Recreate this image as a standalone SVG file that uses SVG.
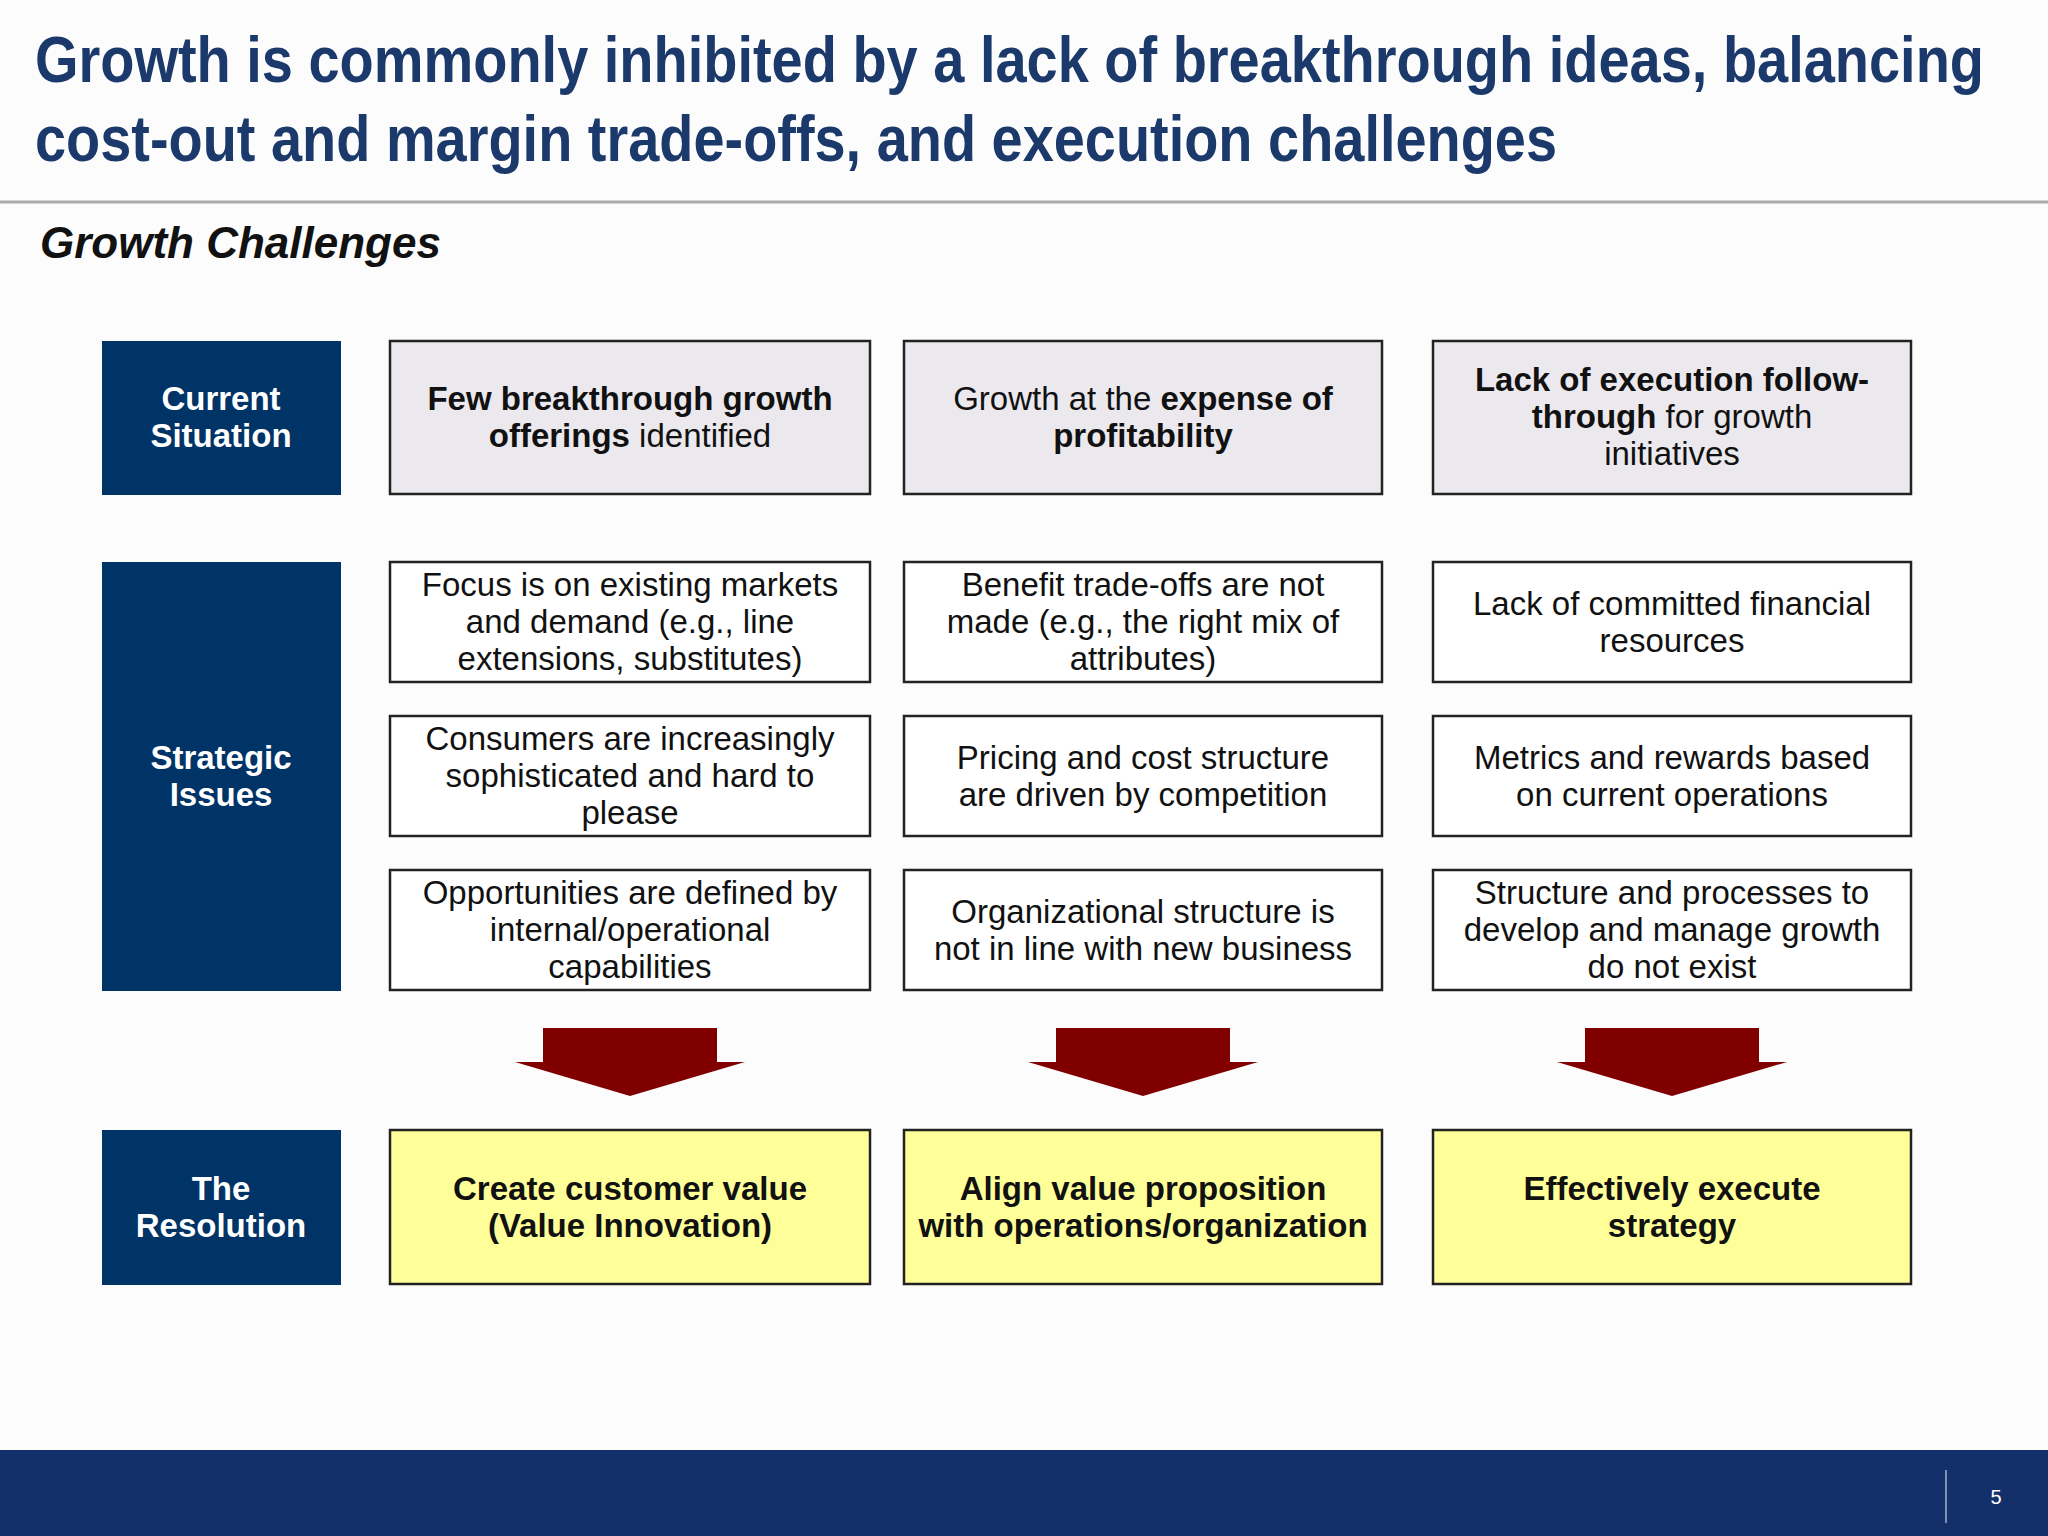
<svg xmlns="http://www.w3.org/2000/svg" width="2048" height="1536" viewBox="0 0 2048 1536">
<style>
.t{font-family:"Liberation Sans Narrow","Liberation Sans",Arial,sans-serif;font-weight:bold;font-size:64px;fill:#1b3a6b}
.lbl{fill:#003366}
.lt{font-family:"Liberation Sans",Arial,sans-serif;font-weight:bold;font-size:33px;fill:#fff;text-anchor:middle}
.hd{fill:#ebe9ee;stroke:#222;stroke-width:2.5}
.bx{fill:#fff;stroke:#222;stroke-width:2.5}
.rs{fill:#ffff99;stroke:#222;stroke-width:2.5}
.tx{font-family:"Liberation Sans",Arial,sans-serif;font-size:33px;fill:#111;text-anchor:middle}
.b{font-weight:bold}
.ar{fill:#800000}
</style>
<rect width="2048" height="1536" fill="#fcfcfd"/>
<text class="t" x="35" y="82" textLength="1949" lengthAdjust="spacingAndGlyphs">Growth is commonly inhibited by a lack of breakthrough ideas, balancing</text>
<text class="t" x="35" y="161" textLength="1522" lengthAdjust="spacingAndGlyphs">cost-out and margin trade-offs, and execution challenges</text>
<line x1="0" y1="202" x2="2048" y2="202" stroke="#aaa" stroke-width="3"/>
<text x="40" y="258" font-family="Liberation Sans,Arial,sans-serif" font-weight="bold" font-style="italic" font-size="44" fill="#111">Growth Challenges</text>

<g id="current"><rect class="lbl" x="102" y="341" width="239" height="154"/><text class="lt" x="221" y="410">Current</text><text class="lt" x="221" y="447">Situation</text></g>
<g id="strategic"><rect class="lbl" x="102" y="562" width="239" height="429"/><text class="lt" x="221" y="769">Strategic</text><text class="lt" x="221" y="806">Issues</text></g>
<g id="resolution"><rect class="lbl" x="102" y="1130" width="239" height="155"/><text class="lt" x="221" y="1200">The</text><text class="lt" x="221" y="1237">Resolution</text></g>

<g id="h1"><rect class="hd" x="390" y="341" width="480" height="153"/><text class="tx" x="630" y="410"><tspan class="b">Few breakthrough growth</tspan></text><text class="tx" x="630" y="447"><tspan class="b">offerings</tspan> identified</text></g>
<g id="h2"><rect class="hd" x="904" y="341" width="478" height="153"/><text class="tx" x="1143" y="410">Growth at the <tspan class="b">expense of</tspan></text><text class="tx" x="1143" y="447"><tspan class="b">profitability</tspan></text></g>
<g id="h3"><rect class="hd" x="1433" y="341" width="478" height="153"/><text class="tx" x="1672" y="391"><tspan class="b">Lack of execution follow-</tspan></text><text class="tx" x="1672" y="428"><tspan class="b">through</tspan> for growth</text><text class="tx" x="1672" y="465">initiatives</text></g>

<g id="s11"><rect class="bx" x="390" y="562" width="480" height="120"/><text class="tx" x="630" y="596">Focus is on existing markets</text><text class="tx" x="630" y="633">and demand (e.g., line</text><text class="tx" x="630" y="670">extensions, substitutes)</text></g>
<g id="s12"><rect class="bx" x="904" y="562" width="478" height="120"/><text class="tx" x="1143" y="596">Benefit trade-offs are not</text><text class="tx" x="1143" y="633">made (e.g., the right mix of</text><text class="tx" x="1143" y="670">attributes)</text></g>
<g id="s13"><rect class="bx" x="1433" y="562" width="478" height="120"/><text class="tx" x="1672" y="615">Lack of committed financial</text><text class="tx" x="1672" y="652">resources</text></g>

<g id="s21"><rect class="bx" x="390" y="716" width="480" height="120"/><text class="tx" x="630" y="750">Consumers are increasingly</text><text class="tx" x="630" y="787">sophisticated and hard to</text><text class="tx" x="630" y="824">please</text></g>
<g id="s22"><rect class="bx" x="904" y="716" width="478" height="120"/><text class="tx" x="1143" y="769">Pricing and cost structure</text><text class="tx" x="1143" y="806">are driven by competition</text></g>
<g id="s23"><rect class="bx" x="1433" y="716" width="478" height="120"/><text class="tx" x="1672" y="769">Metrics and rewards based</text><text class="tx" x="1672" y="806">on current operations</text></g>

<g id="s31"><rect class="bx" x="390" y="870" width="480" height="120"/><text class="tx" x="630" y="904">Opportunities are defined by</text><text class="tx" x="630" y="941">internal/operational</text><text class="tx" x="630" y="978">capabilities</text></g>
<g id="s32"><rect class="bx" x="904" y="870" width="478" height="120"/><text class="tx" x="1143" y="923">Organizational structure is</text><text class="tx" x="1143" y="960">not in line with new business</text></g>
<g id="s33"><rect class="bx" x="1433" y="870" width="478" height="120"/><text class="tx" x="1672" y="904">Structure and processes to</text><text class="tx" x="1672" y="941">develop and manage growth</text><text class="tx" x="1672" y="978">do not exist</text></g>

<g id="connectors">
<polygon class="ar" points="543,1028 717,1028 717,1062 745,1062 630,1096 515,1062 543,1062"/>
<polygon class="ar" points="1056,1028 1230,1028 1230,1062 1258,1062 1143,1096 1028,1062 1056,1062"/>
<polygon class="ar" points="1585,1028 1759,1028 1759,1062 1787,1062 1672,1096 1557,1062 1585,1062"/>
</g>

<g id="r1"><rect class="rs" x="390" y="1130" width="480" height="154"/><text class="tx b" x="630" y="1200">Create customer value</text><text class="tx b" x="630" y="1237">(Value Innovation)</text></g>
<g id="r2"><rect class="rs" x="904" y="1130" width="478" height="154"/><text class="tx b" x="1143" y="1200">Align value proposition</text><text class="tx b" x="1143" y="1237">with operations/organization</text></g>
<g id="r3"><rect class="rs" x="1433" y="1130" width="478" height="154"/><text class="tx b" x="1672" y="1200">Effectively execute</text><text class="tx b" x="1672" y="1237">strategy</text></g>

<rect x="0" y="1450" width="2048" height="86" fill="#14306a"/>
<line x1="1946" y1="1470" x2="1946" y2="1523" stroke="#8090b0" stroke-width="2"/>
<text x="1996" y="1504" font-family="Liberation Sans,Arial,sans-serif" font-size="20" fill="#fff" text-anchor="middle">5</text>
</svg>
